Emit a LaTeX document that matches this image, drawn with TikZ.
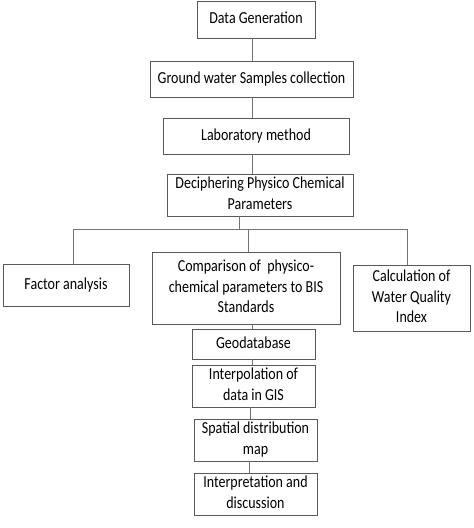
\documentclass[tikz,border=0pt]{standalone}
\usepackage{fontspec}
\usepackage{graphicx}
\setmainfont{Carlito}
\newcommand\vs[1]{\scalebox{1}[1.2]{\begin{tabular}{@{}c@{}}#1\end{tabular}}}
\tikzset{
  box/.style={draw=black!65, line width=0.9pt, fill=white, rectangle, inner sep=0pt,
    font=\fontsize{14}{17}\selectfont, align=center},
  conn/.style={draw=black!55, line width=0.8pt}
}
\begin{document}
\begin{tikzpicture}[x=1pt,y=-1pt]
\useasboundingbox (0,0) rectangle (474,528);
\node[box, minimum width=118pt, minimum height=37pt] (dg) at (256,19.5) {\vs{Data Generation}};
\node[box, minimum width=203pt, minimum height=36pt] (gw) at (251.5,79) {\vs{Ground water Samples collection}};
\node[box, minimum width=186pt, minimum height=36pt] (lab) at (256,136) {\vs{Laboratory method}};
\node[box, minimum width=186pt, minimum height=42pt] (dec) at (260,195) {\vs{Deciphering Physico Chemical\\Parameters}};
\node[box, minimum width=126pt, minimum height=42pt] (fa) at (66,285) {\vs{Factor analysis}};
\node[box, minimum width=188pt, minimum height=72pt] (cmp) at (246,288) {\vs{Comparison of \ physico-\\chemical parameters to BIS\\Standards}};
\node[box, minimum width=117pt, minimum height=66pt] (cal) at (411.5,298) {\vs{Calculation of\\Water Quality\\Index}};
\node[box, minimum width=123pt, minimum height=30pt] (geo) at (253.5,344) {\vs{Geodatabase}};
\node[box, minimum width=123pt, minimum height=42pt] (ip) at (253.5,386) {\vs{Interpolation of\\data in GIS}};
\node[box, minimum width=123pt, minimum height=42pt] (sd) at (255.5,440) {\vs{Spatial distribution\\map}};
\node[box, minimum width=123pt, minimum height=42pt] (id) at (255.5,494) {\vs{Interpretation and\\discussion}};
\coordinate (spine) at (252,0);
\coordinate (bus) at (239,229);
\coordinate (busL) at (73,229);
\coordinate (busM) at (248,229);
\coordinate (busR) at (407,229);
\begin{scope}[on background layer/.style={}]
\draw[conn] (dg.south -| spine) -- (gw.north -| spine);
\draw[conn] (gw.south -| spine) -- (lab.north -| spine);
\draw[conn] (lab.south -| spine) -- (dec.north -| spine);
\draw[conn] (dec.south -| bus) -- (bus);
\draw[conn] (busL) -- (busR);
\draw[conn] (busL) -- (fa.north -| busL);
\draw[conn] (busM) -- (cmp.north -| busM);
\draw[conn] (busR) -- (cal.north -| busR);
\draw[conn] (cmp.south -| spine) -- (geo.north -| spine);
\draw[conn] (geo.south -| spine) -- (ip.north -| spine);
\coordinate (s2) at (250,0);
\coordinate (s3) at (249,0);
\draw[conn] (ip.south -| s2) -- (sd.north -| s2);
\draw[conn] (sd.south -| s3) -- (id.north -| s3);
\end{scope}
\end{tikzpicture}
\end{document}
